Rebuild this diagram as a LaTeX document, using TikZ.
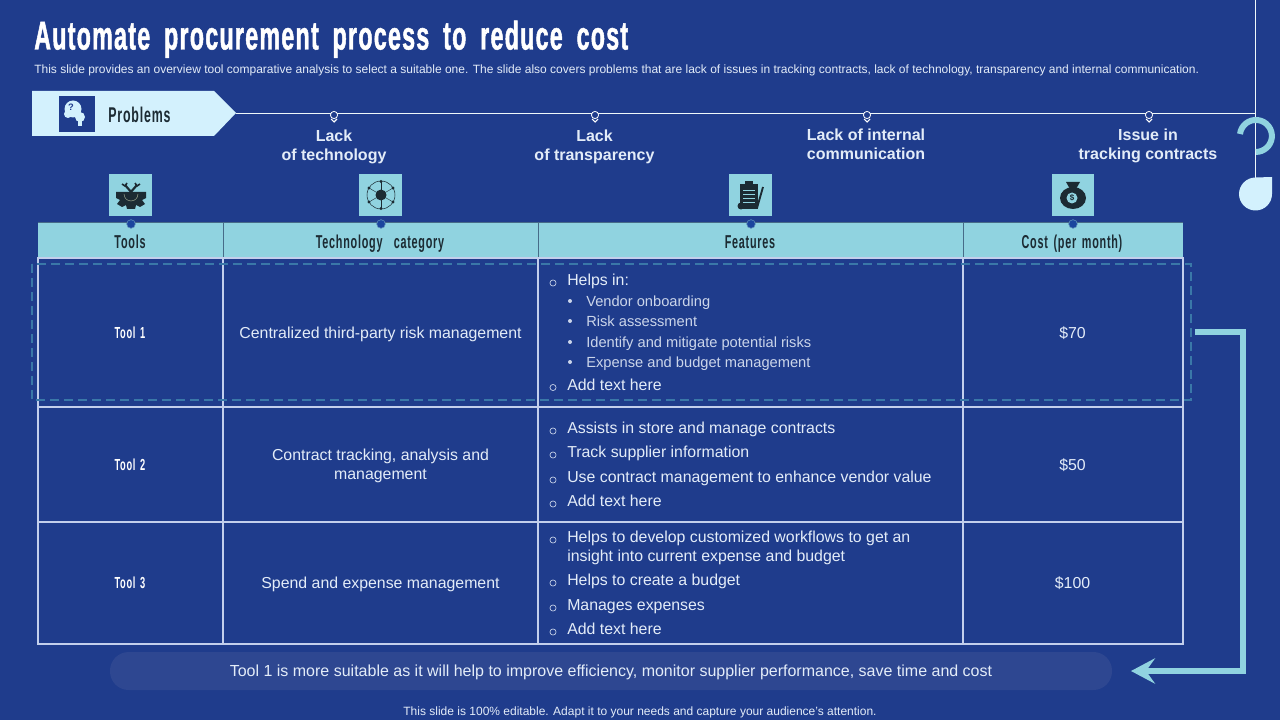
\documentclass[tikz,border=0pt]{standalone}
\usepackage{fontspec}
\setmainfont{Liberation Sans}
\newfontfamily\titlefont[FakeStretch=0.58,LetterSpace=3.2,WordSpace=1.8,FakeBold=1.2]{Liberation Sans}
\newfontfamily\condfont[FakeStretch=0.58,LetterSpace=4,WordSpace=1.5]{Liberation Sans}
\usetikzlibrary{arrows.meta}

\definecolor{slidebg}{HTML}{1F3C8C}
\definecolor{headfill}{HTML}{90D3E0}
\definecolor{palefill}{HTML}{D3F1FD}
\definecolor{pillfill}{HTML}{2E4791}
\definecolor{celltext}{HTML}{E3ECF8}
\definecolor{subtext}{HTML}{CBD5EA}
\definecolor{gridline}{HTML}{C3CFEC}
\definecolor{dashline}{HTML}{3A78A8}
\definecolor{icondark}{HTML}{1C2B33}
\definecolor{dotfill}{HTML}{1B469E}

\tikzset{
  titletext/.style={anchor=base west,inner sep=0pt,text=white,font=\titlefont\bfseries\fontsize{30}{32}\selectfont},
  smalltext/.style={anchor=base west,inner sep=0pt,text=celltext,font=\fontsize{9}{11}\selectfont},
  issuetext/.style={align=center,inner sep=0pt,text=celltext,font=\bfseries\fontsize{12}{14.3}\selectfont},
  headtext/.style={anchor=base,inner sep=0pt,text=icondark,font=\condfont\bfseries\fontsize{14}{16}\selectfont},
  tooltext/.style={anchor=base,inner sep=0pt,text=white,font=\condfont\bfseries\fontsize{12}{14}\selectfont},
  celltxt/.style={anchor=base,align=center,inner sep=0pt,text=celltext,font=\fontsize{11.9}{14.3}\selectfont},
  listtext/.style={anchor=base west,inner sep=0pt,text=celltext,font=\fontsize{11.9}{14.3}\selectfont},
  subitem/.style={anchor=base west,inner sep=0pt,text=subtext,font=\fontsize{11}{13}\selectfont},
  ringmark/.style={circle,draw=subtext,line width=.5pt,minimum size=4.6pt,inner sep=0pt},
  subdot/.style={circle,fill=subtext,minimum size=3pt,inner sep=0pt},
  iconbox/.style={fill=headfill,minimum width=32pt,minimum height=31.5pt,inner sep=0pt},
  tabdot/.style={circle,fill=dotfill,draw=headfill!60!slidebg,line width=.4pt,minimum size=6.5pt,inner sep=0pt},
  pinmark/.style={circle,draw=white,fill=slidebg,line width=.6pt,minimum size=5.4pt,inner sep=0pt},
  gridrule/.style={draw=gridline,line width=.85pt},
}

\begin{document}
\begin{tikzpicture}[x=0.75pt,y=-0.75pt]
  \useasboundingbox (0,0) rectangle (1280,720);
  \fill[slidebg] (0,0) rectangle (1280,720);

  % Title nodes
  \node[titletext] (title) at (34,49.5) {Automate procurement process to reduce cost};
  \node[smalltext] (intro) at (34,74) {This slide provides an overview tool comparative analysis to select a suitable one. The slide also covers problems that are lack of issues in tracking contracts, lack of technology, transparency and internal communication.};

  % Timeline and its decoration
  \draw[white!85!headfill,line width=.65pt] (236,113) -- (1255,113);
  \draw[white!85!headfill,line width=.65pt] (1255,0) -- (1255,180);
  \draw[headfill,line width=4.5pt] (1240,134) arc (187:450:16);
  \fill[palefill] (1272,177) -- (1272,194) arc (0:270:16.5) -- cycle;

  % Problems banner
  \fill[palefill] (32,91) -- (214,91) -- (236,113) -- (214,136) -- (32,136) -- cycle;
  \node[fill=slidebg,minimum width=27pt,minimum height=27pt,inner sep=0pt] (brainbox) at (77,114) {};
  \fill[palefill] (73,109) circle (8.5);
  \fill[palefill] (68,114) circle (4);
  \fill[palefill] (80,117) circle (5);
  \fill[palefill] (78,121) rectangle (82,126);
  \node[inner sep=0pt,text=slidebg,font=\bfseries\fontsize{7}{7}\selectfont] (brainmark) at (71,107) {?};
  \node[anchor=west,inner sep=0pt,text=icondark,font=\condfont\bfseries\fontsize{16}{18}\selectfont] (problems) at (108,115) {Problems};

  % Issue stage nodes
  \node[pinmark] (pin1) at (334,115) {};
  \draw[white,line width=.8pt] (331,119) -- (334,122) -- (337,119);
  \node[issuetext] (issue1) at (334,147) {Lack\\of technology};
  \node[pinmark] (pin2) at (595,115) {};
  \draw[white,line width=.8pt] (592,119) -- (595,122) -- (598,119);
  \node[issuetext] (issue2) at (594.5,147) {Lack\\of transparency};
  \node[pinmark] (pin3) at (867,115) {};
  \draw[white,line width=.8pt] (864,119) -- (867,122) -- (870,119);
  \node[issuetext] (issue3) at (866,144.5) {Lack of internal\\communication};
  \node[pinmark] (pin4) at (1149,115) {};
  \draw[white,line width=.8pt] (1146,119) -- (1149,122) -- (1152,119);
  \node[issuetext] (issue4) at (1148,146) {Issue in\\tracking contracts};

  % Table header
  \fill[headfill] (38,223) rectangle (1183,258);
  \draw[headfill!60!black!70!slidebg,line width=.75pt] (38,223) -- (1183,223);
  \draw[headfill!60!black!70!slidebg,line width=.75pt] (223,223) -- (223,258);
  \draw[headfill!60!black!70!slidebg,line width=.75pt] (538,223) -- (538,258);
  \draw[headfill!60!black!70!slidebg,line width=.75pt] (963,223) -- (963,258);
  \node[headtext] (head1) at (130,248) {Tools};
  \node[headtext] (head2) at (380,248) {Technology\ \ category};
  \node[headtext] (head3) at (750,248) {Features};
  \node[headtext] (head4) at (1072,248) {Cost (per month)};

  % Table grid
  \draw[gridrule] (38,258) rectangle (1183,644);
  \draw[gridrule] (38,407) -- (1183,407);
  \draw[gridrule] (38,522) -- (1183,522);
  \draw[gridrule] (223,258) -- (223,644);
  \draw[gridrule] (538,258) -- (538,644);
  \draw[gridrule] (963,258) -- (963,644);
  \draw[dashline,line width=.9pt,dash pattern=on 6.5pt off 4pt] (32,264) rectangle (1191,400);

  % Icon boxes
  \node[iconbox] (toolicon) at (130.5,195) {};
  \node[iconbox] (techicon) at (380.5,195) {};
  \node[iconbox] (feaicon) at (750.5,195) {};
  \node[iconbox] (costicon) at (1073,195) {};
  \node[tabdot] (tooldot) at (131,224) {};
  \node[tabdot] (techdot) at (381,224) {};
  \node[tabdot] (feadot) at (751,224) {};
  \node[tabdot] (costdot) at (1073,224) {};

  % Gear and wrenches
  \fill[icondark] (116,192) -- (146,192) -- (146,198) -- (142,200) -- (145,204) -- (140,207) -- (136,205) -- (135,209) -- (127,209) -- (126,205) -- (122,207) -- (117,204) -- (120,200) -- (116,198) -- cycle;
  \draw[icondark,line width=1.6pt] (132,193) -- (125,185);
  \draw[icondark,line width=1.6pt] (130,193) -- (137,185);
  \draw[icondark,line width=1.2pt] (122,184) -- (125,186) -- (127,183);
  \draw[icondark,line width=1.2pt] (140,184) -- (137,186) -- (135,183);
  \draw[headfill!70!orange,line width=.3pt] (124,194) arc (180:0:7);
  % Network
  \draw[icondark,line width=.4pt] (381,195) circle (14);
  \fill[icondark] (381,181.5) circle (1.7);
  \fill[icondark] (393,188) circle (1.7);
  \fill[icondark] (393,202) circle (1.7);
  \fill[icondark] (381,208.5) circle (1.7);
  \fill[icondark] (369,202) circle (1.7);
  \fill[icondark] (369,188) circle (1.7);
  \draw[icondark,line width=.3pt] (381,181.5) -- (381,208.5);
  \draw[icondark,line width=.3pt] (393,188) -- (369,202);
  \draw[icondark,line width=.3pt] (393,202) -- (369,188);
  \fill[icondark] (381,195) circle (5.5);
  % Clipboard and pen
  \fill[icondark] (740,184) rectangle (758,209);
  \fill[icondark] (745,181) rectangle (753,185);
  \draw[headfill,line width=.5pt] (743,190) -- (755,190);
  \draw[headfill,line width=.5pt] (743,194) -- (755,194);
  \draw[headfill,line width=.5pt] (743,198) -- (755,198);
  \draw[headfill,line width=.5pt] (743,202) -- (755,202);
  \draw[icondark,line width=1.4pt] (763,187) -- (757,208);
  \fill[icondark] (741,206) circle (3.5);
  % Money bag
  \fill[icondark] (1073,198) ellipse (13 and 11);
  \fill[icondark] (1066,182) -- (1080,182) -- (1076,189) -- (1070,189) -- cycle;
  \fill[headfill] (1072,198) circle (5.5);
  \node[inner sep=0pt,text=icondark,font=\bfseries\fontsize{6}{6}\selectfont] (bagsign) at (1072,198) {\$};

  % First row
  \node[tooltext] (tool1) at (130,338) {Tool 1};
  \node[celltxt] (cat1) at (380.5,338) {Centralized third-party risk management};
  \node[ringmark] (r1a) at (553,283) {};
  \node[listtext] (t1a) at (567,285) {Helps in:};
  \node[subdot] (d1a) at (570,301) {};
  \node[subitem] (s1a) at (586,306) {Vendor onboarding};
  \node[subdot] (d1b) at (570,321) {};
  \node[subitem] (s1b) at (586,326) {Risk assessment};
  \node[subdot] (d1c) at (570,342) {};
  \node[subitem] (s1c) at (586,347) {Identify and mitigate potential risks};
  \node[subdot] (d1d) at (570,362) {};
  \node[subitem] (s1d) at (586,367) {Expense and budget management};
  \node[ringmark] (r1b) at (553,387.5) {};
  \node[listtext] (t1b) at (567,390.5) {Add text here};
  \node[celltxt] (cost1) at (1072.5,338) {\$70};

  % Second row
  \node[tooltext] (tool2) at (130,470) {Tool 2};
  \node[celltxt] (cat2) at (380.5,460) {Contract tracking, analysis and};
  \node[celltxt] (cat2b) at (380.5,479) {management};
  \node[ringmark] (r2a) at (553,431) {};
  \node[listtext] (t2a) at (567,433.5) {Assists in store and manage contracts};
  \node[ringmark] (r2b) at (553,455) {};
  \node[listtext] (t2b) at (567,457.5) {Track supplier information};
  \node[ringmark] (r2c) at (553,480) {};
  \node[listtext] (t2c) at (567,482) {Use contract management to enhance vendor value};
  \node[ringmark] (r2d) at (553,504) {};
  \node[listtext] (t2d) at (567,506.5) {Add text here};
  \node[celltxt] (cost2) at (1072.5,470) {\$50};

  % Third row
  \node[tooltext] (tool3) at (130,588) {Tool 3};
  \node[celltxt] (cat3) at (380.5,588) {Spend and expense management};
  \node[ringmark] (r3a) at (553,540) {};
  \node[listtext] (t3a) at (567,542) {Helps to develop customized workflows to get an};
  \node[listtext] (t3aa) at (567,561) {insight into current expense and budget};
  \node[ringmark] (r3b) at (553,583) {};
  \node[listtext] (t3b) at (567,585.5) {Helps to create a budget};
  \node[ringmark] (r3c) at (553,608) {};
  \node[listtext] (t3c) at (567,610) {Manages expenses};
  \node[ringmark] (r3d) at (553,632) {};
  \node[listtext] (t3d) at (567,634.5) {Add text here};
  \node[celltxt] (cost3) at (1072.5,588) {\$100};

  % Conclusion pill and arrow
  \node[fill=pillfill,rounded corners=14pt,minimum width=751.5pt,minimum height=28.5pt,inner sep=0pt] (pill) at (611,671) {};
  \node[anchor=base,inner sep=0pt,text=celltext,font=\fontsize{12}{14}\selectfont] (pilltext) at (611,676) {Tool 1 is more suitable as it will help to improve efficiency, monitor supplier performance, save time and cost};
  \coordinate (arrowstart) at (1195,332);
  \coordinate (arrowend) at (1131,671);
  \draw[headfill,line width=4.4pt,-{Stealth[length=18pt,width=19pt,inset=6.75pt]}] (arrowstart) -- (1243,332) -- (1243,671) -- (arrowend);

  % Footer
  \node[anchor=base,inner sep=0pt,text=celltext,font=\fontsize{9}{11}\selectfont] (footer) at (640,715) {This slide is 100\% editable. Adapt it to your needs and capture your audience's attention.};
\end{tikzpicture}
\end{document}
